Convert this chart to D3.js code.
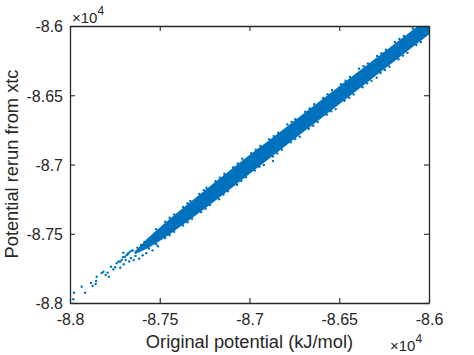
<!DOCTYPE html>
<html><head><meta charset="utf-8">
<script src="https://cdn.jsdelivr.net/npm/d3@7/dist/d3.min.js"></script>
<style>body{margin:0;background:#fff}svg{display:block}text{font-family:"Liberation Sans",Arial,Helvetica,sans-serif;fill:#262626}</style>
</head><body><svg id="c" width="474" height="355"></svg>
<script>
// Axis tick values (data units, kJ/mol)
const xTicks = [-88000, -87500, -87000, -86500, -86000];
const yTicks = [-88000, -87500, -87000, -86500, -86000];
const xTickLabels = ["-8.8", "-8.75", "-8.7", "-8.65", "-8.6"];
const yTickLabels = ["-8.8", "-8.75", "-8.7", "-8.65", "-8.6"];

// Dense core of the scatter: envelope
const bandX     = [-87640, -87600, -87550, -87500, -87400, -87300, -87200, -87000, -86800, -86600, -86400, -86200, -86000];
const bandLower = [-87648, -87625, -87592, -87552, -87462, -87368, -87270, -87068, -86866, -86666, -86464, -86262, -86062];
const bandUpper = [-87628, -87575, -87512, -87455, -87345, -87240, -87135, -86932, -86734, -86534, -86336, -86138, -85938];

// Individual (sparse / fringe) points
const ptX = [-87978, -87982, -87935, -87916, -87883, -87874, -87855, -87851, -87857, -87823, -87814, -87801, -87790, -87783, -87772, -87759, -87749, -87740, -87721, -87712, -87703, -87694, -87684, -87675, -87666, -87656,
  -87730, -87720, -87705, -87700, -87690, -87680, -87670, -87660, -87650, -87645, -87635, -87625, -87615, -87605, -87595, -87585, -87575, -87565, -87550, -87540, -87530, -87510,
  -87520, -87470, -87420, -87370, -87330, -87280, -87240, -87190, -87140, -87090, -87040, -86990, -86940, -86890, -86840, -86790, -86745, -86690, -86640, -86590, -86540, -86490, -86440, -86390, -86340, -86290, -86240, -86190, -86140, -86090,
  -87560, -87520, -87470, -87420, -87370, -87320, -87270, -87220, -87170, -87120, -87070, -87020, -86970, -86920, -86870, -86820, -86770, -86720, -86670, -86620, -86570, -86520, -86470, -86420, -86370, -86320, -86270, -86220, -86170, -86120, -86070,
  -87445, -87345, -87255, -87165, -87065, -86965, -86865, -86765, -86665, -86565, -86465, -86365, -86265, -86165, -86065,
  -87445, -87345, -87245, -87145, -87045, -86945, -86845, -86745, -86645, -86545, -86445, -86345, -86245, -86145, -86045,
  -86869, -86291];
const ptY = [-87926, -87973, -87882, -87926, -87856, -87877, -87841, -87810, -87863, -87783, -87774, -87798, -87781, -87810, -87738, -87757, -87742, -87713, -87702, -87690, -87637, -87666, -87653, -87641, -87630, -87622,
  -87700, -87745, -87670, -87720, -87690, -87650, -87700, -87675, -87620, -87690, -87660, -87600, -87680, -87580, -87655, -87560, -87640, -87540, -87525, -87620, -87500, -87590,
  -87468, -87413, -87360, -87307, -87264, -87212, -87168, -87120, -87067, -87019, -86958, -86918, -86866, -86817, -86770, -86710, -86673, -86619, -86564, -86519, -86462, -86420, -86368, -86308, -86270, -86216, -86171, -86116, -86071, -86018,
  -87607, -87576, -87531, -87486, -87440, -87392, -87344, -87293, -87250, -87193, -87146, -87092, -87044, -87004, -86942, -86894, -86840, -86800, -86742, -86694, -86641, -86600, -86540, -86494, -86442, -86396, -86339, -86294, -86240, -86194, -86138,
  -87385, -87280, -87185, -87095, -86992, -86893, -86795, -86692, -86595, -86492, -86395, -86290, -86196, -86094, -85995,
  -87510, -87417, -87320, -87217, -87120, -87016, -86920, -86816, -86720, -86615, -86518, -86414, -86318, -86214, -86115,
  -86975, -86373];

const m = {l: 70, r: 429, t: 26, b: 303};
const color = "#0072BD", ink = "#262626";

const svg = d3.select("#c");
const x = d3.scaleLinear().domain([-88000, -86000]).range([m.l, m.r]);
const y = d3.scaleLinear().domain([-88000, -86000]).range([m.b, m.t]);

svg.append("defs").append("clipPath").attr("id", "clip")
  .append("rect").attr("x", m.l).attr("y", m.t).attr("width", m.r - m.l).attr("height", m.b - m.t);

const plot = svg.append("g").attr("clip-path", "url(#clip)");

const band = bandX.map((v, i) => ({x: v, lo: bandLower[i], hi: bandUpper[i]}));
plot.append("path").datum(band)
  .attr("d", d3.area().x(d => x(d.x)).y0(d => y(d.lo)).y1(d => y(d.hi)).curve(d3.curveMonotoneX))
  .attr("fill", color);

const pts = ptX.map((v, i) => ({x: v, y: ptY[i]}));
plot.selectAll("circle.pt").data(pts).enter().append("circle").attr("class", "pt")
  .attr("cx", d => x(d.x)).attr("cy", d => y(d.y)).attr("r", 1.2).attr("fill", color);

// axes (MATLAB-style box with inward ticks)
const tl = 5;
const gx = svg.append("g").attr("transform", `translate(0,${m.b})`)
  .call(d3.axisBottom(x).tickValues(xTicks).tickFormat((d, i) => xTickLabels[i]).tickSizeInner(-tl).tickSizeOuter(0).tickPadding(10.6));
const gxt = svg.append("g").attr("transform", `translate(0,${m.t})`)
  .call(d3.axisTop(x).tickValues(xTicks).tickFormat("").tickSizeInner(-tl).tickSizeOuter(0));
const gy = svg.append("g").attr("transform", `translate(${m.l},0)`)
  .call(d3.axisLeft(y).tickValues(yTicks).tickFormat((d, i) => yTickLabels[i]).tickSizeInner(-tl).tickSizeOuter(0).tickPadding(7));
const gyr = svg.append("g").attr("transform", `translate(${m.r},0)`)
  .call(d3.axisRight(y).tickValues(yTicks).tickFormat("").tickSizeInner(-tl).tickSizeOuter(0));
[gx, gxt, gy, gyr].forEach(g => {
  g.selectAll("path.domain").attr("stroke", ink).attr("stroke-width", 1.3);
  g.selectAll(".tick line").attr("stroke", ink).attr("stroke-width", 1.1);
  g.selectAll(".tick text").attr("font-size", 16).attr("fill", ink)
    .style("font-family", '"Liberation Sans",Arial,sans-serif');
});
gy.selectAll(".tick text").attr("dy", "0.36em");

// axis labels
svg.append("text").attr("x", (m.l + m.r) / 2).attr("y", 348).attr("text-anchor", "middle")
  .attr("font-size", 18.3).text("Original potential (kJ/mol)");
svg.append("text").attr("transform", `translate(18,164) rotate(-90)`)
  .attr("text-anchor", "middle").attr("font-size", 18.3).text("Potential rerun from xtc");

// exponent labels
function expo(px, py) {
  const t = svg.append("text").attr("x", px).attr("y", py).attr("font-size", 15);
  t.append("tspan").text("\u00d710");
  t.append("tspan").attr("dy", -8).attr("font-size", 12).text("4");
}
expo(72, 23);
expo(390, 351);
</script></body></html>
